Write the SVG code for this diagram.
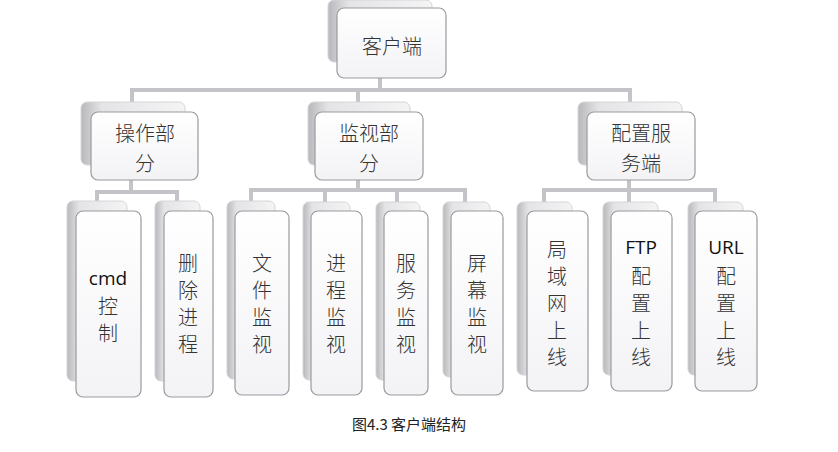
<svg xmlns="http://www.w3.org/2000/svg" width="838" height="452" viewBox="0 0 838 452">
<defs>
<linearGradient id="bk" x1="0" y1="0" x2="1" y2="0"><stop offset="0" stop-color="#b8b8bc"/><stop offset="0.2" stop-color="#e4e4e6"/><stop offset="1" stop-color="#f4f4f5"/></linearGradient>
<linearGradient id="fr" x1="0" y1="0" x2="0" y2="1"><stop offset="0" stop-color="#ffffff"/><stop offset="1" stop-color="#f3f3f6"/></linearGradient>
</defs>
<style>
.b{fill:url(#bk);stroke:#d6d6da;stroke-width:1}
.f{fill:url(#fr);stroke:#9a9aa0;stroke-width:1.2}
.t{font-family:"Noto Sans CJK SC",sans-serif;font-weight:300;font-size:20px;fill:#333;text-anchor:middle;dominant-baseline:central}
.l{font-family:"Open Sans",sans-serif;font-size:19px;fill:#111;text-anchor:middle;dominant-baseline:central}
.c{stroke:#c4c4c8;stroke-width:4;fill:none}
</style>
<g id="connectors">
<path class="c" d="M380 78V90M132 102V90H630V102M358 90V102"/>
<path class="c" d="M131 180V192M97 201V192H177V201"/>
<path class="c" d="M358 180V192M251 201V190H465V202M325 190V202M397 190V202"/>
<path class="c" d="M629 180V190M544 202V190H715V202M629 190V202"/>
</g>
<g id="root"><rect class="b" x="328" y="0" width="104" height="62" rx="6"/><rect class="f" x="337" y="8" width="109" height="70" rx="7"/><text class="t" x="392" y="45">客户端</text></g>
<g id="op"><rect class="b" x="81" y="102" width="104" height="63" rx="6"/><rect class="f" x="91" y="112" width="107" height="68" rx="7"/><text class="t" x="145" y="132">操作部</text><text class="t" x="145" y="162">分</text></g>
<g id="mon"><rect class="b" x="308" y="102" width="102" height="63" rx="6"/><rect class="f" x="315" y="112" width="108" height="68" rx="7"/><text class="t" x="369" y="132">监视部</text><text class="t" x="369" y="162">分</text></g>
<g id="cfg"><rect class="b" x="578" y="102" width="104" height="63" rx="6"/><rect class="f" x="587" y="112" width="108" height="68" rx="7"/><text class="t" x="641" y="132">配置服</text><text class="t" x="641" y="162">务端</text></g>
<g id="cmd"><rect class="b" x="67" y="201" width="60" height="180" rx="6"/><rect class="f" x="76" y="211" width="65" height="186" rx="7"/><text class="l" x="108" y="278">cmd</text><text class="t" x="108" y="305">控</text><text class="t" x="108" y="332">制</text></g>
<g id="del"><rect class="b" x="155" y="201" width="45" height="180" rx="6"/><rect class="f" x="164" y="211" width="49" height="186" rx="7"/><text class="t" x="188" y="262">删</text><text class="t" x="188" y="289">除</text><text class="t" x="188" y="316">进</text><text class="t" x="188" y="343">程</text></g>
<g id="file"><rect class="b" x="227" y="201" width="48" height="178" rx="6"/><rect class="f" x="235" y="211" width="54" height="184" rx="7"/><text class="t" x="262" y="262">文</text><text class="t" x="262" y="289">件</text><text class="t" x="262" y="316">监</text><text class="t" x="262" y="343">视</text></g>
<g id="proc"><rect class="b" x="303" y="202" width="47" height="178" rx="6"/><rect class="f" x="311" y="211" width="51" height="184" rx="7"/><text class="t" x="336" y="262">进</text><text class="t" x="336" y="289">程</text><text class="t" x="336" y="316">监</text><text class="t" x="336" y="343">视</text></g>
<g id="svc"><rect class="b" x="376" y="202" width="44" height="178" rx="6"/><rect class="f" x="384" y="211" width="44" height="184" rx="7"/><text class="t" x="406" y="262">服</text><text class="t" x="406" y="289">务</text><text class="t" x="406" y="316">监</text><text class="t" x="406" y="343">视</text></g>
<g id="scr"><rect class="b" x="443" y="202" width="47" height="175" rx="6"/><rect class="f" x="451" y="211" width="52" height="184" rx="7"/><text class="t" x="477" y="262">屏</text><text class="t" x="477" y="289">幕</text><text class="t" x="477" y="316">监</text><text class="t" x="477" y="343">视</text></g>
<g id="lan"><rect class="b" x="517" y="202" width="55" height="173" rx="6"/><rect class="f" x="527" y="211" width="61" height="180" rx="7"/><text class="t" x="557" y="248">局</text><text class="t" x="557" y="275">域</text><text class="t" x="557" y="302">网</text><text class="t" x="557" y="329">上</text><text class="t" x="557" y="356">线</text></g>
<g id="ftp"><rect class="b" x="603" y="202" width="55" height="173" rx="6"/><rect class="f" x="611" y="211" width="61" height="180" rx="7"/><text class="l" x="641" y="247">FTP</text><text class="t" x="641" y="275">配</text><text class="t" x="641" y="302">置</text><text class="t" x="641" y="329">上</text><text class="t" x="641" y="356">线</text></g>
<g id="url"><rect class="b" x="688" y="202" width="55" height="173" rx="6"/><rect class="f" x="695" y="211" width="62" height="180" rx="7"/><text class="l" x="726" y="247">URL</text><text class="t" x="726" y="275">配</text><text class="t" x="726" y="302">置</text><text class="t" x="726" y="329">上</text><text class="t" x="726" y="356">线</text></g>
<text x="409" y="430" style="font-family:'Noto Sans CJK SC',sans-serif;font-size:15px;fill:#222;text-anchor:middle">图4.3 客户端结构</text>
</svg>
